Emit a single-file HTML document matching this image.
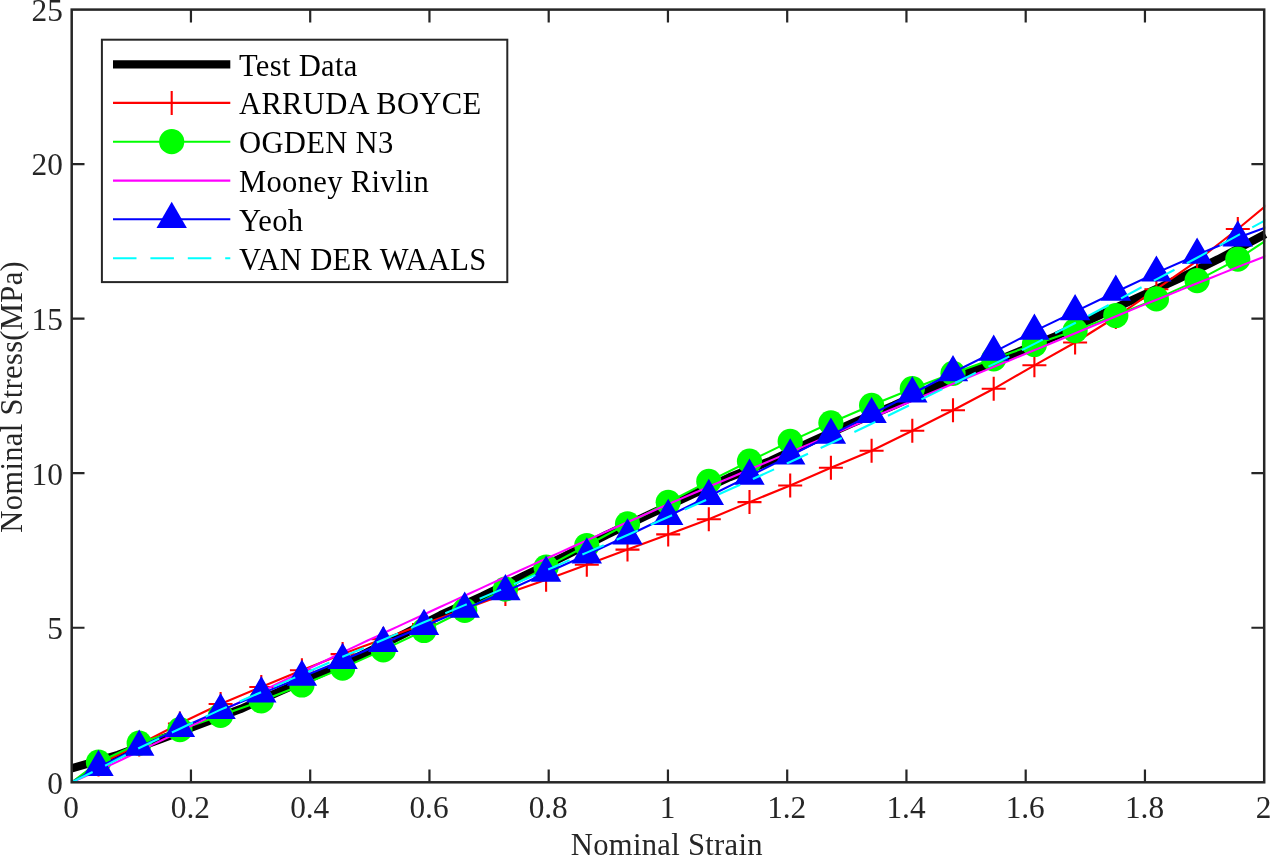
<!DOCTYPE html>
<html lang="en">
<head>
<meta charset="utf-8">
<title>Nominal Stress vs Nominal Strain</title>
<style>
html,body{margin:0;padding:0;background:#fff;}
body{width:1270px;height:856px;overflow:hidden;}
svg{display:block;}
text{font-family:"Liberation Serif",serif;}
.tk{font-size:31.3px;fill:#262626;}
.lb{font-size:30.6px;fill:#262626;letter-spacing:.3px;}
.lg{font-size:30.6px;fill:#000;letter-spacing:.3px;}
</style>
</head>
<body>
<svg width="1270" height="856" viewBox="0 0 1270 856">
<rect x="0" y="0" width="1270" height="856" fill="#fff"/>
<defs><clipPath id="ax"><rect x="71.7" y="9.6" width="1193.5" height="772.7"/></clipPath></defs>

<g fill="none">
<polyline points="72.0,768.2 117.9,754.9 162.1,738.6 202.5,723.5 240.8,708.9 280.6,691.0 320.8,673.5 361.8,655.0 405.2,633.4 440.6,615.1 482.1,596.2 523.1,576.3 565.2,555.9 606.2,535.0 648.4,514.9 689.5,495.9 729.8,477.1 770.7,460.8 810.5,441.9 852.6,423.0 893.6,405.6 935.8,386.4 974.3,369.9 1015.8,352.9 1055.5,336.3 1095.3,317.3 1135.7,298.5 1177.1,279.5 1218.1,259.3 1265.3,234.1" stroke="#000" stroke-width="8.2" stroke-linejoin="round"/>
</g>
<polyline clip-path="url(#ax)" points="71.7,782.3 98.5,764.5 139.2,744.5 179.9,723.5 220.6,704.0 261.3,687.0 301.9,670.3 342.6,654.1 383.3,639.1 424.0,624.1 464.7,609.0 505.4,594.0 546.1,579.8 586.8,564.8 627.5,549.6 668.2,534.4 708.8,519.3 749.5,502.1 790.2,485.5 830.9,467.7 871.6,450.8 912.3,430.7 953.0,410.2 993.7,388.8 1034.4,365.3 1075.1,342.5 1115.8,317.0 1156.4,289.2 1197.1,260.8 1237.8,229.0 1278.5,195.1" fill="none" stroke="#f00" stroke-width="2.1"/>
<path d="M86.5,764.5H110.5M98.5,752.5V776.5M127.2,744.5H151.2M139.2,732.5V756.5M167.9,723.5H191.9M179.9,711.5V735.5M208.6,704.0H232.6M220.6,692.0V716.0M249.3,687.0H273.3M261.3,675.0V699.0M289.9,670.3H313.9M301.9,658.3V682.3M330.6,654.1H354.6M342.6,642.1V666.1M371.3,639.1H395.3M383.3,627.1V651.1M412.0,624.1H436.0M424.0,612.1V636.1M452.7,609.0H476.7M464.7,597.0V621.0M493.4,594.0H517.4M505.4,582.0V606.0M534.1,579.8H558.1M546.1,567.8V591.8M574.8,564.8H598.8M586.8,552.8V576.8M615.5,549.6H639.5M627.5,537.6V561.6M656.2,534.4H680.2M668.2,522.4V546.4M696.8,519.3H720.8M708.8,507.3V531.3M737.5,502.1H761.5M749.5,490.1V514.1M778.2,485.5H802.2M790.2,473.5V497.5M818.9,467.7H842.9M830.9,455.7V479.7M859.6,450.8H883.6M871.6,438.8V462.8M900.3,430.7H924.3M912.3,418.7V442.7M941.0,410.2H965.0M953.0,398.2V422.2M981.7,388.8H1005.7M993.7,376.8V400.8M1022.4,365.3H1046.4M1034.4,353.3V377.3M1063.1,342.5H1087.1M1075.1,330.5V354.5M1103.8,317.0H1127.8M1115.8,305.0V329.0M1144.4,289.2H1168.4M1156.4,277.2V301.2M1185.1,260.8H1209.1M1197.1,248.8V272.8M1225.8,229.0H1249.8M1237.8,217.0V241.0" stroke="#f00" stroke-width="2.1" fill="none"/>
<polyline clip-path="url(#ax)" points="71.7,782.3 98.5,762.2 139.2,743.2 179.9,729.7 220.6,715.4 261.3,700.9 301.9,685.0 342.6,668.1 383.3,649.9 424.0,630.5 464.7,610.3 505.4,589.1 546.1,567.1 586.8,545.5 627.5,523.8 668.2,502.3 708.8,481.4 749.5,461.2 790.2,441.4 830.9,422.8 871.6,405.3 912.3,388.7 953.0,373.3 993.7,358.8 1034.4,344.5 1075.1,330.6 1115.8,315.5 1156.4,298.9 1197.1,280.6 1237.8,259.1 1278.5,232.3" fill="none" stroke="#0f0" stroke-width="2.1"/>
<g fill="#0f0"><circle cx="98.5" cy="762.2" r="12.6"/><circle cx="139.2" cy="743.2" r="12.6"/><circle cx="179.9" cy="729.7" r="12.6"/><circle cx="220.6" cy="715.4" r="12.6"/><circle cx="261.3" cy="700.9" r="12.6"/><circle cx="301.9" cy="685.0" r="12.6"/><circle cx="342.6" cy="668.1" r="12.6"/><circle cx="383.3" cy="649.9" r="12.6"/><circle cx="424.0" cy="630.5" r="12.6"/><circle cx="464.7" cy="610.3" r="12.6"/><circle cx="505.4" cy="589.1" r="12.6"/><circle cx="546.1" cy="567.1" r="12.6"/><circle cx="586.8" cy="545.5" r="12.6"/><circle cx="627.5" cy="523.8" r="12.6"/><circle cx="668.2" cy="502.3" r="12.6"/><circle cx="708.8" cy="481.4" r="12.6"/><circle cx="749.5" cy="461.2" r="12.6"/><circle cx="790.2" cy="441.4" r="12.6"/><circle cx="830.9" cy="422.8" r="12.6"/><circle cx="871.6" cy="405.3" r="12.6"/><circle cx="912.3" cy="388.7" r="12.6"/><circle cx="953.0" cy="373.3" r="12.6"/><circle cx="993.7" cy="358.8" r="12.6"/><circle cx="1034.4" cy="344.5" r="12.6"/><circle cx="1075.1" cy="330.6" r="12.6"/><circle cx="1115.8" cy="315.5" r="12.6"/><circle cx="1156.4" cy="298.9" r="12.6"/><circle cx="1197.1" cy="280.6" r="12.6"/><circle cx="1237.8" cy="259.1" r="12.6"/></g>
<polyline clip-path="url(#ax)" points="71.7,782.3 81.9,777.7 92.1,773.2 102.3,768.6 112.4,764.1 122.6,759.2 132.8,754.3 143.0,749.4 153.2,744.4 163.4,739.5 173.6,734.6 183.7,729.6 193.9,724.6 204.1,719.6 214.3,714.6 224.5,709.6 234.7,704.6 244.9,699.6 255.0,694.6 265.2,689.7 275.4,684.7 285.6,679.8 295.8,674.8 306.0,669.9 316.2,665.0 326.3,660.1 336.5,655.3 346.7,650.4 356.9,645.6 367.1,640.8 377.3,636.1 387.5,631.3 397.6,626.6 407.8,621.9 418.0,617.2 428.2,612.5 438.4,607.8 448.6,603.1 458.8,598.4 469.0,593.7 479.1,589.1 489.3,584.4 499.5,579.8 509.7,575.1 519.9,570.5 530.1,565.9 540.3,561.3 550.4,556.7 560.6,552.1 570.8,547.5 581.0,543.0 591.2,538.4 601.4,533.9 611.6,529.3 621.7,524.8 631.9,520.3 642.1,515.7 652.3,511.2 662.5,506.7 672.7,502.3 682.9,497.9 693.0,493.5 703.2,489.2 713.4,484.8 723.6,480.5 733.8,476.2 744.0,471.8 754.2,467.5 764.3,463.2 774.5,458.9 784.7,454.5 794.9,450.2 805.1,445.9 815.3,441.6 825.5,437.3 835.6,433.0 845.8,428.8 856.0,424.5 866.2,420.1 876.4,415.8 886.6,411.5 896.8,407.3 906.9,403.0 917.1,398.7 927.3,394.4 937.5,390.2 947.7,386.0 957.9,381.7 968.1,377.5 978.2,373.3 988.4,369.1 998.6,364.9 1008.8,360.7 1019.0,356.5 1029.2,352.3 1039.4,348.1 1049.5,344.0 1059.7,339.8 1069.9,335.5 1080.1,331.3 1090.3,327.0 1100.5,322.7 1110.7,318.5 1120.9,314.3 1131.0,310.1 1141.2,305.9 1151.4,301.8 1161.6,297.7 1171.8,293.6 1182.0,289.4 1192.2,285.3 1202.3,281.2 1212.5,277.2 1222.7,273.1 1232.9,269.0 1243.1,264.9 1253.3,260.9 1263.5,256.9 1273.6,252.9 1283.8,248.9 1294.0,245.0" fill="none" stroke="#f0f" stroke-width="2.1"/>
<polyline clip-path="url(#ax)" points="71.7,782.3 98.5,767.3 139.2,747.1 179.9,728.4 220.6,710.4 261.3,693.6 301.9,677.0 342.6,660.2 383.3,643.3 424.0,626.2 464.7,609.1 505.4,591.5 546.1,573.0 586.8,554.7 627.5,535.7 668.2,516.2 708.8,496.3 749.5,476.1 790.2,455.8 830.9,435.1 871.6,414.4 912.3,393.7 953.0,372.5 993.7,352.1 1034.4,331.1 1075.1,311.6 1115.8,292.0 1156.4,272.9 1197.1,255.0 1237.8,237.8 1278.5,222.8" fill="none" stroke="#00f" stroke-width="2.1"/>
<path d="M98.5,749.8L113.7,776.0H83.3ZM139.2,729.6L154.4,755.8H124.0ZM179.9,710.9L195.1,737.1H164.7ZM220.6,692.9L235.8,719.1H205.4ZM261.3,676.1L276.5,702.4H246.1ZM301.9,659.5L317.1,685.7H286.8ZM342.6,642.7L357.8,668.9H327.4ZM383.3,625.8L398.5,652.0H368.1ZM424.0,608.7L439.2,634.9H408.8ZM464.7,591.6L479.9,617.8H449.5ZM505.4,574.0L520.6,600.2H490.2ZM546.1,555.5L561.3,581.7H530.9ZM586.8,537.2L602.0,563.4H571.6ZM627.5,518.2L642.7,544.4H612.3ZM668.2,498.7L683.4,524.9H653.0ZM708.8,478.8L724.0,505.0H693.6ZM749.5,458.6L764.7,484.8H734.3ZM790.2,438.3L805.4,464.5H775.0ZM830.9,417.6L846.1,443.8H815.7ZM871.6,396.9L886.8,423.1H856.4ZM912.3,376.2L927.5,402.4H897.1ZM953.0,355.0L968.2,381.2H937.8ZM993.7,334.6L1008.9,360.8H978.5ZM1034.4,313.6L1049.6,339.8H1019.2ZM1075.1,294.1L1090.3,320.3H1059.9ZM1115.8,274.5L1131.0,300.7H1100.5ZM1156.4,255.4L1171.6,281.6H1141.2ZM1197.1,237.5L1212.3,263.7H1181.9ZM1237.8,220.3L1253.0,246.5H1222.6Z" fill="#00f"/>
<polyline clip-path="url(#ax)" points="71.7,782.3 98.5,769.2 139.2,748.0 179.9,728.7 220.6,709.6 261.3,692.1 301.9,674.5 342.6,656.8 383.3,639.8 424.0,622.2 464.7,605.1 505.4,587.8 546.1,570.4 586.8,552.6 627.5,535.0 668.2,517.0 708.8,498.8 749.5,480.6 790.2,462.0 830.9,443.2 871.6,423.8 912.3,403.8 953.0,383.9 993.7,364.1 1034.4,343.9 1075.1,323.0 1115.8,301.2 1156.4,279.3 1197.1,257.8 1237.8,235.4 1278.5,213.0" fill="none" stroke="#0ff" stroke-width="2.1" stroke-dasharray="23.33 13.96"/>
<path d="M190.95,782.3v-12.8M190.95,9.6v12.8M310.20,782.3v-12.8M310.20,9.6v12.8M429.45,782.3v-12.8M429.45,9.6v12.8M548.70,782.3v-12.8M548.70,9.6v12.8M667.95,782.3v-12.8M667.95,9.6v12.8M787.20,782.3v-12.8M787.20,9.6v12.8M906.45,782.3v-12.8M906.45,9.6v12.8M1025.70,782.3v-12.8M1025.70,9.6v12.8M1144.95,782.3v-12.8M1144.95,9.6v12.8M71.7,627.76h12.8M1264.2,627.76h-12.8M71.7,473.22h12.8M1264.2,473.22h-12.8M71.7,318.68h12.8M1264.2,318.68h-12.8M71.7,164.14h12.8M1264.2,164.14h-12.8" fill="none" stroke="#262626" stroke-width="2.2"/>
<rect x="71.7" y="9.6" width="1192.5" height="772.7" fill="none" stroke="#262626" stroke-width="2.5"/>
<text class="tk" x="71.2" y="818.1" text-anchor="middle">0</text>
<text class="tk" x="190.4" y="818.1" text-anchor="middle">0.2</text>
<text class="tk" x="309.7" y="818.1" text-anchor="middle">0.4</text>
<text class="tk" x="429.0" y="818.1" text-anchor="middle">0.6</text>
<text class="tk" x="548.2" y="818.1" text-anchor="middle">0.8</text>
<text class="tk" x="667.5" y="818.1" text-anchor="middle">1</text>
<text class="tk" x="786.7" y="818.1" text-anchor="middle">1.2</text>
<text class="tk" x="906.0" y="818.1" text-anchor="middle">1.4</text>
<text class="tk" x="1025.2" y="818.1" text-anchor="middle">1.6</text>
<text class="tk" x="1144.5" y="818.1" text-anchor="middle">1.8</text>
<text class="tk" x="1263.7" y="818.1" text-anchor="middle">2</text>
<text class="tk" x="62.8" y="793.6" text-anchor="end">0</text>
<text class="tk" x="62.8" y="639.1" text-anchor="end">5</text>
<text class="tk" x="62.8" y="484.5" text-anchor="end">10</text>
<text class="tk" x="62.8" y="330.0" text-anchor="end">15</text>
<text class="tk" x="62.8" y="175.4" text-anchor="end">20</text>
<text class="tk" x="62.8" y="20.9" text-anchor="end">25</text>
<text class="lb" x="666.8" y="855.4" text-anchor="middle">Nominal Strain</text>
<text class="lb" transform="translate(21.5,396.8) rotate(-90)" text-anchor="middle">Nominal Stress(MPa)</text>
<rect x="101.9" y="39.7" width="405.4" height="242.4" fill="#fff" stroke="#262626" stroke-width="2.0"/>
<path d="M113.0,64.4H230.3" stroke="#000" stroke-width="8.3"/>
<path d="M113.0,102.9H230.3M159.7,102.9H183.7M171.7,90.9V114.9" stroke="#f00" stroke-width="2.1" fill="none"/>
<path d="M113.0,141.7H230.3" stroke="#0f0" stroke-width="2.1"/><circle cx="171.7" cy="141.7" r="12.6" fill="#0f0"/>
<path d="M113.0,180.6H230.3" stroke="#f0f" stroke-width="2.1"/>
<path d="M113.0,219.3H230.3" stroke="#00f" stroke-width="2.1"/><path d="M171.7,201.8L186.9,228.0H156.5Z" fill="#00f"/>
<path d="M113.0,258.2H230.3" stroke="#0ff" stroke-width="2.1" stroke-dasharray="23.5 13.9"/>
<text class="lg" x="239.0" y="75.9">Test Data</text>
<text class="lg" x="239.0" y="114.4">ARRUDA BOYCE</text>
<text class="lg" x="239.0" y="153.2">OGDEN N3</text>
<text class="lg" x="239.0" y="192.1">Mooney Rivlin</text>
<text class="lg" x="239.0" y="230.8">Yeoh</text>
<text class="lg" x="239.0" y="269.7">VAN DER WAALS</text>
</svg>
</body>
</html>
